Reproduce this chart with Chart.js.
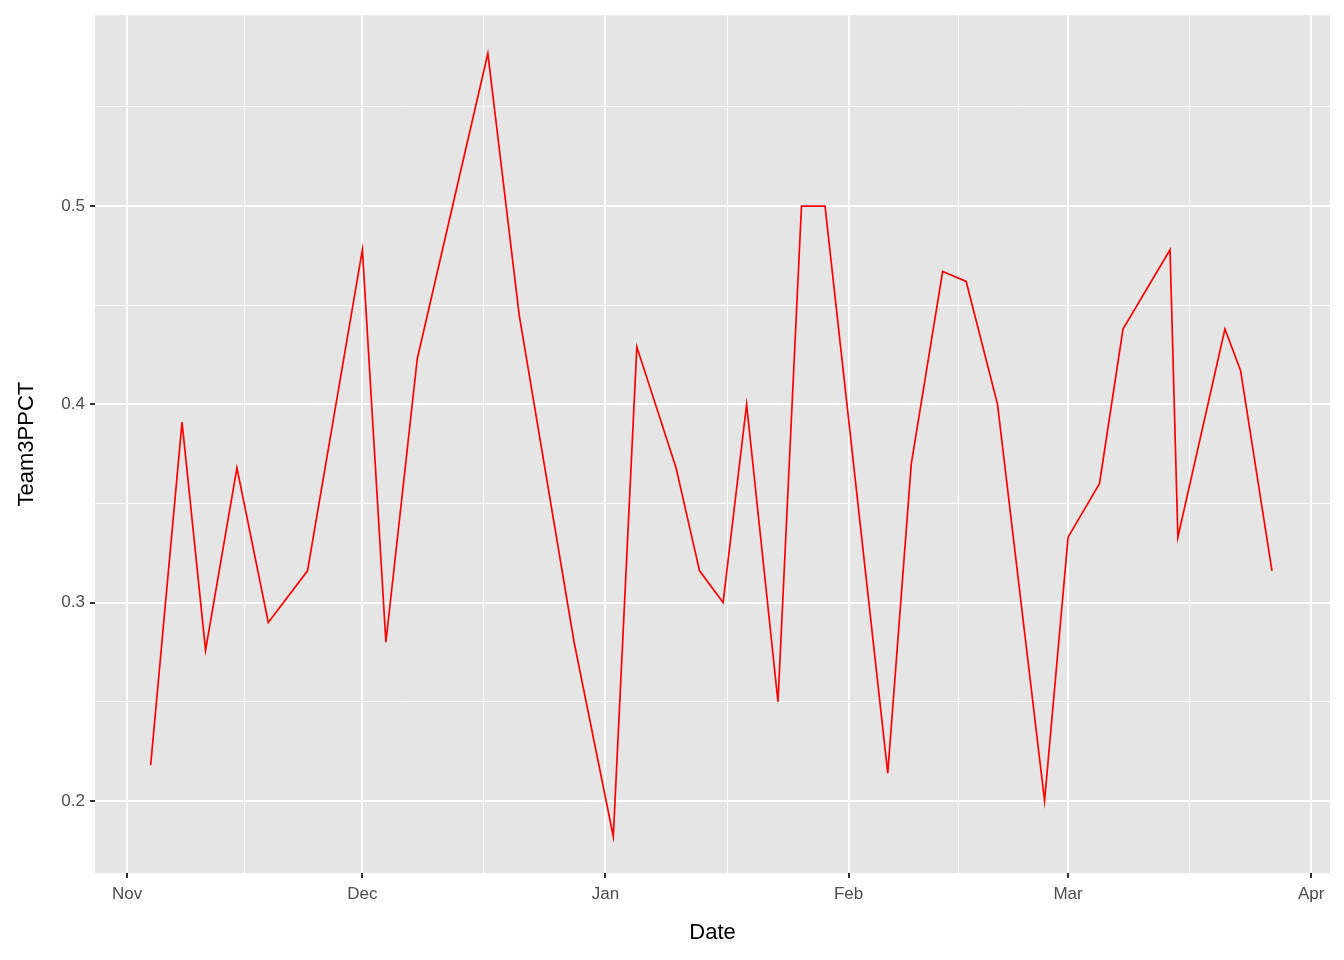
<!DOCTYPE html>
<html>
<head>
<meta charset="utf-8">
<script src="https://cdn.jsdelivr.net/npm/chart.js@4/dist/chart.umd.min.js"></script>
<style>
  html, body { margin: 0; padding: 0; background: #fff; }
  #wrap { width: 1344px; height: 960px; }
</style>
</head>
<body>
<div id="wrap"><canvas id="chart"></canvas></div>
<script>
// Days since Nov 1 for each game
const gameDays = [3, 7, 10, 14, 18, 23, 30, 33, 37, 46, 50, 57, 62, 65, 70, 73, 76, 79, 83, 86, 89,
  97, 100, 104, 107, 111, 117, 120, 124, 127, 133, 134, 140, 142, 146];
const team3PPCT = [0.218, 0.391, 0.276, 0.368, 0.290, 0.316, 0.478, 0.280, 0.423, 0.577, 0.445, 0.280,
  0.182, 0.429, 0.368, 0.316, 0.300, 0.400, 0.250, 0.500, 0.500, 0.214, 0.370, 0.467, 0.462, 0.400,
  0.200, 0.333, 0.360, 0.438, 0.478, 0.333, 0.438, 0.417, 0.316];

// Month starts (day offsets) and labels
const monthDays = [0, 30, 61, 92, 120, 151];
const monthLabels = ['Nov', 'Dec', 'Jan', 'Feb', 'Mar', 'Apr'];
const monthMinor = [15, 45.5, 76.5, 106, 135.5];
const yMajor = [0.2, 0.3, 0.4, 0.5];
const yMinor = [0.25, 0.35, 0.45, 0.55];

const panelBg = {
  id: 'panelBg',
  beforeDraw(chart) {
    const a = chart.chartArea;
    chart.ctx.save();
    chart.ctx.fillStyle = '#e5e5e5';
    chart.ctx.fillRect(a.left, a.top, a.right - a.left, a.bottom - a.top);
    chart.ctx.restore();
  }
};

function isMajor(list, v) {
  return list.some(m => Math.abs(m - v) < 1e-6);
}

const tickFont = { family: 'Liberation Sans, Arial, sans-serif', size: 17 };
const titleFont = { family: 'Liberation Sans, Arial, sans-serif', size: 22 };

new Chart(document.getElementById('chart'), {
  type: 'line',
  data: {
    datasets: [{
      data: gameDays.map((d, i) => ({ x: d, y: team3PPCT[i] })),
      borderColor: '#ff0000',
      borderWidth: 1.7,
      pointRadius: 0,
      tension: 0,
      fill: false
    }]
  },
  options: {
    responsive: true,
    maintainAspectRatio: false,
    animation: false,
    layout: { padding: { left: 0, right: 14, top: 15, bottom: 0 } },
    plugins: { legend: { display: false }, tooltip: { enabled: false } },
    scales: {
      x: {
        type: 'linear',
        min: -4.1,
        max: 153.4,
        afterBuildTicks(axis) {
          axis.ticks = monthDays.concat(monthMinor).map(v => ({ value: v }));
        },
        afterFit(axis) { axis.height = 87; },
        grid: {
          color: '#ffffff',
          lineWidth: ctx => isMajor(monthDays, ctx.tick.value) ? 2 : 1,
          tickColor: ctx => isMajor(monthDays, ctx.tick.value) ? '#333333' : 'rgba(0,0,0,0)',
          tickLength: 5,
          drawTicks: true
        },
        border: { display: false },
        ticks: {
          autoSkip: false,
          maxRotation: 0,
          color: '#4d4d4d',
          font: tickFont,
          padding: 6,
          callback: v => {
            const i = monthDays.findIndex(m => Math.abs(m - v) < 1e-6);
            return i >= 0 ? monthLabels[i] : '';
          }
        },
        title: { display: true, text: 'Date', color: '#000', font: titleFont, padding: { top: 0, bottom: 14 } }
      },
      y: {
        min: 0.1636,
        max: 0.5963,
        afterBuildTicks(axis) {
          axis.ticks = yMajor.concat(yMinor).map(v => ({ value: v }));
        },
        afterFit(axis) { axis.width = 95; },
        grid: {
          color: '#ffffff',
          lineWidth: ctx => isMajor(yMajor, ctx.tick.value) ? 2 : 1,
          tickColor: ctx => isMajor(yMajor, ctx.tick.value) ? '#333333' : 'rgba(0,0,0,0)',
          tickLength: 5
        },
        border: { display: false },
        ticks: {
          autoSkip: false,
          color: '#4d4d4d',
          font: tickFont,
          padding: 5,
          callback: v => isMajor(yMajor, v) ? v.toFixed(1) : ''
        },
        title: { display: true, text: 'Team3PPCT', color: '#000', font: titleFont, padding: { top: 14, bottom: 0 } }
      }
    }
  },
  plugins: [panelBg]
});
</script>
</body>
</html>
